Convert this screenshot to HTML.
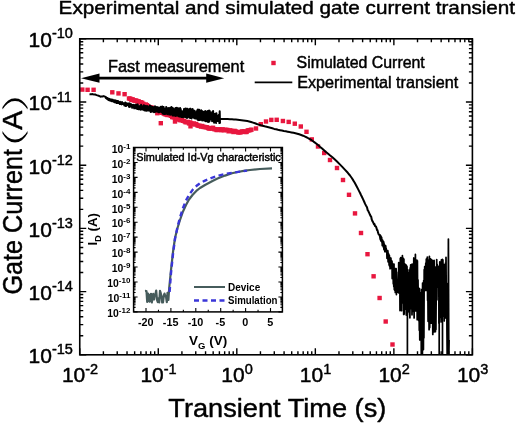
<!DOCTYPE html>
<html><head><meta charset="utf-8"><title>Experimental and simulated gate current transient</title>
<style>html,body{margin:0;padding:0;background:#fff}svg{display:block}</style></head>
<body>
<svg width="520" height="424" viewBox="0 0 520 424" style="display:block">
<rect width="520" height="424" fill="#fff"/>
<g fill="#e8173f"><rect x="80.1" y="87.4" width="4.4" height="4.4"/><rect x="85.4" y="87.6" width="4.4" height="4.4"/><rect x="91.4" y="87.6" width="4.4" height="4.4"/><rect x="110.1" y="90.1" width="4.4" height="4.4"/><rect x="116.3" y="91.2" width="4.4" height="4.4"/><rect x="122.4" y="92.0" width="4.4" height="4.4"/><rect x="155.1" y="111.0" width="4.4" height="4.4"/><rect x="158.6" y="121.0" width="4.4" height="4.4"/><rect x="172.8" y="119.3" width="4.4" height="4.4"/><rect x="188.3" y="124.1" width="4.4" height="4.4"/><rect x="126.8" y="96.3" width="4.4" height="4.4"/><rect x="128.0" y="96.4" width="4.4" height="4.4"/><rect x="129.2" y="97.6" width="4.4" height="4.4"/><rect x="130.4" y="97.1" width="4.4" height="4.4"/><rect x="131.6" y="98.3" width="4.4" height="4.4"/><rect x="132.8" y="98.4" width="4.4" height="4.4"/><rect x="134.0" y="98.3" width="4.4" height="4.4"/><rect x="135.2" y="99.4" width="4.4" height="4.4"/><rect x="136.4" y="99.1" width="4.4" height="4.4"/><rect x="137.6" y="100.1" width="4.4" height="4.4"/><rect x="138.8" y="100.1" width="4.4" height="4.4"/><rect x="140.0" y="100.6" width="4.4" height="4.4"/><rect x="141.2" y="101.7" width="4.4" height="4.4"/><rect x="142.4" y="102.9" width="4.4" height="4.4"/><rect x="143.6" y="102.3" width="4.4" height="4.4"/><rect x="144.8" y="103.0" width="4.4" height="4.4"/><rect x="146.0" y="104.2" width="4.4" height="4.4"/><rect x="147.2" y="105.2" width="4.4" height="4.4"/><rect x="148.4" y="105.2" width="4.4" height="4.4"/><rect x="149.6" y="105.5" width="4.4" height="4.4"/><rect x="150.8" y="107.0" width="4.4" height="4.4"/><rect x="152.0" y="106.0" width="4.4" height="4.4"/><rect x="153.2" y="107.9" width="4.4" height="4.4"/><rect x="154.4" y="107.5" width="4.4" height="4.4"/><rect x="155.6" y="107.9" width="4.4" height="4.4"/><rect x="156.8" y="108.4" width="4.4" height="4.4"/><rect x="158.0" y="109.3" width="4.4" height="4.4"/><rect x="159.2" y="110.6" width="4.4" height="4.4"/><rect x="160.4" y="110.2" width="4.4" height="4.4"/><rect x="161.6" y="111.4" width="4.4" height="4.4"/><rect x="162.8" y="112.0" width="4.4" height="4.4"/><rect x="164.0" y="112.1" width="4.4" height="4.4"/><rect x="165.2" y="112.8" width="4.4" height="4.4"/><rect x="166.4" y="112.5" width="4.4" height="4.4"/><rect x="167.6" y="112.9" width="4.4" height="4.4"/><rect x="168.8" y="113.6" width="4.4" height="4.4"/><rect x="170.0" y="114.9" width="4.4" height="4.4"/><rect x="171.2" y="114.9" width="4.4" height="4.4"/><rect x="172.4" y="115.2" width="4.4" height="4.4"/><rect x="173.6" y="116.1" width="4.4" height="4.4"/><rect x="174.8" y="116.3" width="4.4" height="4.4"/><rect x="176.0" y="116.5" width="4.4" height="4.4"/><rect x="177.2" y="117.7" width="4.4" height="4.4"/><rect x="178.4" y="118.0" width="4.4" height="4.4"/><rect x="179.6" y="117.7" width="4.4" height="4.4"/><rect x="180.8" y="118.6" width="4.4" height="4.4"/><rect x="182.0" y="118.9" width="4.4" height="4.4"/><rect x="183.2" y="119.9" width="4.4" height="4.4"/><rect x="184.4" y="120.0" width="4.4" height="4.4"/><rect x="185.6" y="119.7" width="4.4" height="4.4"/><rect x="186.8" y="121.2" width="4.4" height="4.4"/><rect x="188.0" y="120.2" width="4.4" height="4.4"/><rect x="189.2" y="121.1" width="4.4" height="4.4"/><rect x="190.4" y="121.9" width="4.4" height="4.4"/><rect x="191.6" y="121.3" width="4.4" height="4.4"/><rect x="192.8" y="122.2" width="4.4" height="4.4"/><rect x="194.0" y="121.8" width="4.4" height="4.4"/><rect x="195.2" y="123.1" width="4.4" height="4.4"/><rect x="196.4" y="123.6" width="4.4" height="4.4"/><rect x="197.6" y="123.7" width="4.4" height="4.4"/><rect x="198.8" y="124.4" width="4.4" height="4.4"/><rect x="200.0" y="123.8" width="4.4" height="4.4"/><rect x="201.2" y="124.7" width="4.4" height="4.4"/><rect x="202.4" y="124.8" width="4.4" height="4.4"/><rect x="203.6" y="125.0" width="4.4" height="4.4"/><rect x="204.8" y="125.1" width="4.4" height="4.4"/><rect x="206.0" y="125.9" width="4.4" height="4.4"/><rect x="207.2" y="126.4" width="4.4" height="4.4"/><rect x="208.4" y="125.9" width="4.4" height="4.4"/><rect x="209.6" y="126.4" width="4.4" height="4.4"/><rect x="210.8" y="125.6" width="4.4" height="4.4"/><rect x="212.0" y="126.9" width="4.4" height="4.4"/><rect x="213.2" y="127.0" width="4.4" height="4.4"/><rect x="214.4" y="127.8" width="4.4" height="4.4"/><rect x="215.6" y="127.7" width="4.4" height="4.4"/><rect x="216.8" y="127.1" width="4.4" height="4.4"/><rect x="218.0" y="127.4" width="4.4" height="4.4"/><rect x="219.2" y="128.0" width="4.4" height="4.4"/><rect x="220.4" y="127.1" width="4.4" height="4.4"/><rect x="221.6" y="128.0" width="4.4" height="4.4"/><rect x="222.8" y="127.7" width="4.4" height="4.4"/><rect x="224.0" y="127.7" width="4.4" height="4.4"/><rect x="225.2" y="127.8" width="4.4" height="4.4"/><rect x="226.4" y="129.1" width="4.4" height="4.4"/><rect x="227.6" y="128.2" width="4.4" height="4.4"/><rect x="228.8" y="128.5" width="4.4" height="4.4"/><rect x="230.0" y="128.9" width="4.4" height="4.4"/><rect x="231.2" y="129.8" width="4.4" height="4.4"/><rect x="232.4" y="128.7" width="4.4" height="4.4"/><rect x="233.6" y="129.4" width="4.4" height="4.4"/><rect x="234.8" y="129.7" width="4.4" height="4.4"/><rect x="236.0" y="130.2" width="4.4" height="4.4"/><rect x="237.2" y="130.1" width="4.4" height="4.4"/><rect x="238.4" y="130.2" width="4.4" height="4.4"/><rect x="239.6" y="129.2" width="4.4" height="4.4"/><rect x="240.8" y="129.5" width="4.4" height="4.4"/><rect x="242.0" y="129.2" width="4.4" height="4.4"/><rect x="243.2" y="129.8" width="4.4" height="4.4"/><rect x="244.4" y="129.7" width="4.4" height="4.4"/><rect x="245.6" y="128.2" width="4.4" height="4.4"/><rect x="246.8" y="128.1" width="4.4" height="4.4"/><rect x="248.0" y="127.9" width="4.4" height="4.4"/><rect x="249.2" y="127.5" width="4.4" height="4.4"/><rect x="253.8" y="126.3" width="4.4" height="4.4"/><rect x="258.6" y="122.0" width="4.4" height="4.4"/><rect x="263.8" y="119.3" width="4.4" height="4.4"/><rect x="269.1" y="117.7" width="4.4" height="4.4"/><rect x="274.5" y="117.6" width="4.4" height="4.4"/><rect x="280.7" y="118.8" width="4.4" height="4.4"/><rect x="286.5" y="119.7" width="4.4" height="4.4"/><rect x="292.6" y="121.5" width="4.4" height="4.4"/><rect x="298.6" y="124.3" width="4.4" height="4.4"/><rect x="304.3" y="129.6" width="4.4" height="4.4"/><rect x="309.6" y="137.2" width="4.4" height="4.4"/><rect x="315.8" y="144.3" width="4.4" height="4.4"/><rect x="322.0" y="150.8" width="4.4" height="4.4"/><rect x="327.8" y="157.8" width="4.4" height="4.4"/><rect x="334.8" y="165.8" width="4.4" height="4.4"/><rect x="340.8" y="177.8" width="4.4" height="4.4"/><rect x="346.8" y="192.6" width="4.4" height="4.4"/><rect x="352.8" y="211.2" width="4.4" height="4.4"/><rect x="358.8" y="230.8" width="4.4" height="4.4"/><rect x="365.3" y="252.0" width="4.4" height="4.4"/><rect x="371.4" y="274.1" width="4.4" height="4.4"/><rect x="377.4" y="295.8" width="4.4" height="4.4"/><rect x="383.5" y="319.3" width="4.4" height="4.4"/><rect x="390.3" y="342.3" width="4.4" height="4.4"/></g>
<clipPath id="cp"><rect x="79.75" y="38.8" width="392.65" height="316.0"/></clipPath>
<path d="M89.5,94.2 L90.5,94.3 L91.5,94.2 L92.5,94.1 L93.5,94.4 L94.5,94.4 L95.5,94.6 L96.5,95.1 L97.5,95.4 L98.5,95.7 L99.5,96.2 L100.5,96.7 L101.5,96.4 L102.5,96.5 L103.5,96.1 L104.5,96.4 L105.5,97.0 L105.8,98.0 L106.2,97.4 L106.5,98.6 L106.8,97.9 L107.1,99.1 L107.5,98.1 L107.8,99.5 L108.1,98.5 L108.5,99.9 L108.8,98.8 L109.1,100.3 L109.5,99.0 L109.8,100.5 L110.1,99.2 L110.4,100.8 L110.8,99.9 L111.1,100.6 L111.4,99.5 L111.8,101.2 L112.1,99.8 L112.4,101.3 L112.8,99.8 L113.1,101.0 L113.4,100.9 L113.7,101.7 L114.1,100.4 L114.4,102.2 L114.7,100.3 L115.1,102.3 L115.4,100.6 L115.7,101.9 L116.1,100.6 L116.4,102.9 L116.7,101.8 L117.0,102.7 L117.4,100.9 L117.7,102.9 L118.0,101.0 L118.4,103.1 L118.7,102.4 L119.0,102.8 L119.4,102.0 L119.7,103.9 L120.0,101.7 L120.3,104.1 L120.7,102.5 L121.0,103.9 L121.3,102.7 L121.7,104.4 L122.0,102.0 L122.3,103.8 L122.7,103.4 L123.0,103.9 L123.3,103.2 L123.6,104.2 L124.0,103.2 L124.3,105.4 L124.6,103.0 L125.0,105.4 L125.3,102.5 L125.6,105.9 L126.0,102.9 L126.3,105.9 L126.6,103.7 L126.9,104.7 L127.3,103.4 L127.6,104.9 L127.9,104.8 L128.3,105.0 L128.6,103.5 L128.9,106.7 L129.3,103.4 L129.6,106.9 L129.9,103.5 L130.2,106.4 L130.6,105.1 L130.9,106.0 L131.2,104.2 L131.6,106.6 L131.9,105.1 L132.2,107.8 L132.6,104.9 L132.9,106.2 L133.2,105.3 L133.6,106.9 L133.9,104.7 L134.2,108.3 L134.5,105.6 L134.9,108.2 L135.2,105.8 L135.5,106.6 L135.9,104.8 L136.2,108.4 L136.5,106.5 L136.9,107.7 L137.2,104.6 L137.5,109.1 L137.8,104.6 L138.2,107.3 L138.5,106.3 L138.8,109.3 L139.2,106.4 L139.5,107.2 L139.8,105.9 L140.2,109.2 L140.5,105.7 L140.8,109.8 L141.1,104.8 L141.5,107.5 L141.8,106.1 L142.1,109.2 L142.5,107.3 L142.8,109.6 L143.1,107.1 L143.5,108.4 L143.8,105.2 L144.1,110.2 L144.4,105.5 L144.8,110.4 L145.1,106.3 L145.4,110.5 L145.8,105.9 L146.1,110.8 L146.4,107.7 L146.8,110.5 L147.1,106.1 L147.4,110.0 L147.7,107.9 L148.1,110.6 L148.4,108.0 L148.7,110.5 L149.1,106.6 L149.4,110.5 L149.7,105.6 L150.1,110.9 L150.4,105.8 L150.7,111.9 L151.0,107.8 L151.4,111.8 L151.7,106.7 L152.0,110.2 L152.4,107.0 L152.7,111.6 L153.0,106.9 L153.4,111.0 L153.7,108.0 L154.0,112.3 L154.3,107.2 L154.7,112.1 L155.0,106.3 L155.3,110.4 L155.7,107.1 L156.0,111.4 L156.3,108.2 L156.7,109.9 L157.0,107.0 L157.3,111.4 L157.6,107.3 L158.0,111.8 L158.3,108.1 L158.6,112.2 L159.0,107.5 L159.3,112.2 L159.6,109.4 L160.0,111.3 L160.3,109.2 L160.6,110.2 L160.9,106.7 L161.3,112.1 L161.6,109.7 L161.9,110.9 L162.3,106.6 L162.6,113.6 L162.9,107.5 L163.3,113.8 L163.6,106.9 L163.9,113.9 L164.2,108.5 L164.6,111.5 L164.9,109.8 L165.2,114.0 L165.6,108.9 L165.9,112.3 L166.2,106.9 L166.6,111.3 L166.9,110.4 L167.2,114.2 L167.5,110.4 L167.9,113.7 L168.2,108.1 L168.5,110.9 L168.9,109.8 L169.2,114.6 L169.5,108.0 L169.9,113.6 L170.2,107.7 L170.5,114.8 L170.8,107.7 L171.2,112.8 L171.5,107.1 L171.8,113.7 L172.2,108.2 L172.5,115.4 L172.8,107.9 L173.2,113.6 L173.5,108.7 L173.8,115.6 L174.1,111.4 L174.5,112.9 L174.8,111.4 L175.1,115.8 L175.5,107.9 L175.8,116.0 L176.1,110.4 L176.5,115.6 L176.8,107.7 L177.1,115.1 L177.4,111.3 L177.8,113.2 L178.1,108.2 L178.4,116.3 L178.8,111.6 L179.1,114.8 L179.4,110.3 L179.8,116.6 L180.1,107.9 L180.4,114.4 L180.7,109.0 L181.1,116.9 L181.4,112.0 L181.7,114.9 L182.1,111.2 L182.4,117.1 L182.7,111.6 L183.1,117.2 L183.4,111.8 L183.7,116.1 L184.0,109.0 L184.4,115.7 L184.7,112.4 L185.0,117.1 L185.4,108.5 L185.7,116.1 L186.0,108.8 L186.4,117.7 L186.7,108.7 L187.0,118.0 L187.3,108.8 L187.7,117.4 L188.0,109.3 L188.3,115.1 L188.7,109.3 L189.0,116.7 L189.3,109.0 L189.7,117.6 L190.0,108.7 L190.3,118.1 L190.6,108.8 L191.0,115.7 L191.3,110.7 L191.6,118.5 L192.0,110.4 L192.3,114.4 L192.6,109.1 L193.0,115.4 L193.3,110.3 L193.6,117.5 L193.9,112.9 L194.3,118.2 L194.6,110.8 L194.9,116.6 L195.3,114.2 L195.6,118.6 L195.9,113.1 L196.3,116.7 L196.6,111.8 L196.9,118.5 L197.2,110.3 L197.6,119.8 L197.9,109.6 L198.2,119.9 L198.6,112.7 L198.9,119.5 L199.2,109.8 L199.6,120.1 L199.9,113.6 L200.2,116.1 L200.5,112.5 L200.9,119.8 L201.2,110.3 L201.5,119.8 L201.9,111.3 L202.2,120.4 L202.5,111.3 L202.9,120.2 L203.2,115.0 L203.5,115.7 L203.8,112.0 L204.2,120.5 L204.5,115.3 L204.8,120.3 L205.2,111.1 L205.5,121.3 L205.8,111.3 L206.2,119.7 L206.5,112.0 L206.8,121.1 L207.1,112.1 L207.5,121.7 L207.8,110.9 L208.1,121.7 L208.5,111.7 L208.8,121.9 L209.1,110.4 L209.5,121.2 L209.8,111.0 L210.1,119.7 L210.4,112.6 L210.8,118.6 L211.1,113.6 L211.4,118.9 L211.8,115.4 L212.1,121.2 L212.4,111.7 L212.8,116.8 L213.1,111.0 L213.4,119.2 L213.7,113.8 L214.1,122.8 L214.4,115.4 L214.7,117.9 L215.1,113.8 L215.4,119.4 L215.7,115.3 L216.1,122.9 L216.4,113.2 L216.7,121.2 L217.0,115.7 L217.4,119.1 L217.7,115.7 L218.0,120.9 L218.4,116.3 L218.7,120.2 L219.0,114.7 L219.4,123.1 L219.7,111.3 L220.0,123.6" fill="none" stroke="#000" stroke-width="2" stroke-linejoin="round"/>
<path d="M219.0,119.0 L220.5,119.0 L222.7,119.0 L225.2,119.1 L227.7,119.1 L230.0,119.2 L232.0,119.3 L233.9,119.4 L235.8,119.6 L237.7,119.8 L239.6,120.0 L241.5,120.2 L243.4,120.5 L245.4,120.8 L247.3,121.1 L249.2,121.5 L251.1,122.0 L253.0,122.6 L255.0,123.3 L256.9,124.0 L258.8,124.6 L260.7,125.2 L262.7,125.7 L264.6,126.3 L266.6,126.8 L268.5,127.3 L270.4,127.8 L272.3,128.3 L274.2,128.9 L276.1,129.3 L278.0,129.8 L279.9,130.2 L281.9,130.6 L283.8,131.0 L285.8,131.3 L287.7,131.7 L289.6,132.1 L291.5,132.4 L293.5,132.8 L295.4,133.2 L297.3,133.7 L299.2,134.3 L301.2,135.0 L303.1,135.7 L305.1,136.6 L307.0,137.5 L308.9,138.6 L310.8,139.7 L312.7,141.0 L314.6,142.4 L316.5,143.8 L318.4,145.3 L320.2,146.9 L322.1,148.5 L324.0,150.2 L326.0,152.0 L328.1,153.7 L330.2,155.5 L332.4,157.3 L334.6,159.3 L337.0,161.5 L339.6,164.1 L342.3,166.9 L345.1,169.9 L347.8,172.8 L350.0,175.5 L351.8,178.0 L353.3,180.4 L354.6,182.6 L355.8,184.8 L357.0,187.0 L358.1,189.1 L359.1,191.1 L360.1,193.0 L361.0,195.0 L362.0,197.0 L363.0,199.2 L364.1,201.5 L365.1,203.9 L366.1,205.8 L367.0,207.3 L367.7,210.2 L368.3,211.0 L368.9,212.3 L369.4,213.4 L370.0,214.8 L370.6,216.0 L371.2,216.7 L371.8,219.7 L372.4,221.1 L373.0,222.0 L373.5,223.1 L374.0,224.3 L374.5,224.0 L375.0,226.0 L375.5,226.1 L376.0,226.7 L376.5,228.1 L377.0,230.1 L377.5,230.3 L378.0,232.4 L378.6,234.2 L379.2,234.7 L379.8,236.0 L380.4,237.6 L381.0,239.3 L381.6,240.7 L382.2,241.6 L382.8,242.8 L383.4,243.0 L384.0,244.4 L384.6,245.9 L385.2,248.1 L385.8,248.7 L386.4,250.6 L387.0,251.1 L387.6,252.9 L388.3,255.1 L389.0,257.6 L389.6,259.2 L390.0,260.3" fill="none" stroke="#000" stroke-width="2" stroke-linejoin="round"/>
<path d="M380.0,234.4 L380.3,239.5 L380.5,236.0 L380.8,240.9 L381.0,236.2 L381.3,239.9 L381.6,237.3 L381.8,240.5 L382.1,241.8 L382.3,245.6 L382.6,240.2 L382.9,243.9 L383.1,244.3 L383.4,247.1 L383.6,241.7 L383.9,249.1 L384.2,246.5 L384.4,250.3 L384.7,245.1 L384.9,251.7 L385.2,246.0 L385.5,248.9 L385.7,245.9 L386.0,251.4 L386.2,248.6 L386.5,252.4 L386.8,251.2 L387.0,258.1 L387.3,254.3 L387.5,258.5 L387.8,250.7 L388.1,261.8 L388.3,253.7 L388.6,261.9 L388.8,254.0 L389.1,264.9 L389.4,255.5 L389.6,265.9 L389.9,260.9 L390.1,268.8 L390.4,261.6 L390.7,265.4 L390.9,258.0 L391.2,266.2 L391.4,264.5 L391.7,268.6 L392.0,261.2 L392.2,278.5 L392.5,263.3 L392.7,270.3 L393.0,267.3 L393.3,283.7 L393.5,266.2 L393.8,286.5 L394.0,264.1 L394.3,289.6 L394.6,276.3 L394.8,290.2 L395.1,280.3 L395.3,292.4 L395.6,268.7 L395.9,290.7 L396.1,268.6 L396.4,294.6 L396.6,284.4 L396.9,283.6 L397.2,280.1 L397.4,292.3 L397.7,284.3 L397.9,282.7 L398.2,272.2 L398.5,292.3 L398.7,262.7 L399.0,293.1 L399.2,268.3 L399.5,293.3 L399.8,274.3 L400.0,310.5 L400.3,258.5 L400.5,284.6 L400.8,257.7 L401.1,305.5 L401.3,260.6 L401.6,310.7 L401.8,275.1 L402.1,279.5 L402.4,255.7 L402.6,297.7 L402.9,257.8 L403.1,302.8 L403.4,262.4 L403.7,314.4 L403.9,259.0 L404.2,314.0 L404.4,288.1 L404.7,306.8 L405.0,264.0 L405.2,289.3 L405.5,294.9 L405.7,309.0 L406.0,264.9 L406.3,315.1 L406.5,265.5 L406.8,312.5 L407.0,266.5 L407.3,314.8 L407.6,269.7 L407.8,306.5 L408.1,291.8 L408.3,299.6 L408.6,273.3 L408.9,311.4 L409.1,276.0 L409.4,312.4 L409.6,270.0 L409.9,317.8 L410.2,267.9 L410.4,287.7 L410.7,264.8 L410.9,308.5 L411.2,277.5 L411.5,292.6 L411.7,264.5 L412.0,314.8 L412.2,264.2 L412.5,311.4 L412.8,268.4 L413.0,285.9 L413.3,285.4 L413.5,290.1 L413.8,258.0 L414.1,317.9 L414.3,276.6 L414.6,287.6 L414.8,265.3 L415.1,303.5 L415.4,254.4 L415.6,310.9 L415.9,287.1 L416.1,290.8 L416.4,283.8 L416.7,283.2 L416.9,260.2 L417.2,319.7 L417.4,260.8 L417.7,310.1 L418.0,279.9 L418.2,296.8 L418.5,290.8 L418.7,320.4 L419.0,296.3 L419.3,330.2 L419.5,288.5 L419.8,339.9 L420.0,302.9 L420.3,337.5 L420.6,322.3 L420.8,338.5 L421.1,292.7 L421.3,356.9 L421.6,289.7 L421.9,338.7 L422.1,307.6 L422.4,357.1 L422.6,283.1 L422.9,343.7 L423.2,298.6 L423.4,349.5 L423.7,280.6 L423.9,337.7 L424.2,269.7 L424.5,290.2 L424.7,266.6 L425.0,273.2 L425.2,267.2 L425.5,275.6 L425.8,263.1 L426.0,290.5 L426.3,259.2 L426.5,272.7 L426.8,268.4 L427.1,289.5 L427.3,257.1 L427.6,300.2 L427.8,278.5 L428.1,321.3 L428.4,260.5 L428.6,310.0 L428.9,296.0 L429.1,329.7 L429.4,256.3 L429.7,327.4 L429.9,265.9 L430.2,311.3 L430.4,258.8 L430.7,304.4 L431.0,284.4 L431.2,323.2 L431.5,259.6 L431.7,292.1 L432.0,263.0 L432.3,304.4 L432.5,260.7 L432.8,334.4 L433.0,286.7 L433.3,331.5 L433.6,300.9 L433.8,322.6 L434.1,260.3 L434.3,331.8 L434.6,267.8 L434.9,312.2 L435.1,299.5 L435.4,331.7 L435.6,267.1 L435.9,329.5 L436.2,293.5 L436.4,299.3 L436.7,259.6 L436.9,299.8 L437.2,264.4 L437.5,280.3 L437.7,279.4 L438.0,286.5 L438.2,284.2 L438.5,287.2 L438.8,266.3 L439.0,322.9 L439.3,295.1 L439.5,302.2 L439.8,261.9 L440.1,306.2 L440.3,268.0 L440.6,317.4 L440.8,265.9 L441.1,321.9 L441.4,260.0 L441.6,319.3 L441.9,265.0 L442.1,287.4 L442.4,259.3 L442.7,286.3 L442.9,259.9 L443.2,316.1 L443.4,284.3 L443.7,294.2 L444.0,264.7 L444.2,320.9 L444.5,266.4 L444.7,313.9 L445.0,289.3 L445.3,318.0 L445.5,263.1 L445.8,289.0 L446.0,257.4 L446.3,312.4 L446.6,283.4 L446.8,296.9 L447.0,330.0 L447.4,358.0 L447.8,290.0 L448.1,358.0 L448.4,239.0 L448.8,358.0 L449.1,340.0" fill="none" stroke="#000" stroke-width="1.75" stroke-linejoin="round" clip-path="url(#cp)"/>
<path d="M407.4,300V358M439.2,300V358M442.5,300V358M447.5,300V358" fill="none" stroke="#000" stroke-width="1.7" clip-path="url(#cp)"/>
<path d="M79.75,354.8v-6.5M79.75,38.8v6.5M103.39,354.8v-3.5M103.39,38.8v3.5M117.22,354.8v-3.5M117.22,38.8v3.5M127.03,354.8v-3.5M127.03,38.8v3.5M134.64,354.8v-3.5M134.64,38.8v3.5M140.86,354.8v-3.5M140.86,38.8v3.5M146.12,354.8v-3.5M146.12,38.8v3.5M150.67,354.8v-3.5M150.67,38.8v3.5M154.69,354.8v-3.5M154.69,38.8v3.5M158.28,354.8v-6.5M158.28,38.8v6.5M181.92,354.8v-3.5M181.92,38.8v3.5M195.75,354.8v-3.5M195.75,38.8v3.5M205.56,354.8v-3.5M205.56,38.8v3.5M213.17,354.8v-3.5M213.17,38.8v3.5M219.39,354.8v-3.5M219.39,38.8v3.5M224.65,354.8v-3.5M224.65,38.8v3.5M229.20,354.8v-3.5M229.20,38.8v3.5M233.22,354.8v-3.5M233.22,38.8v3.5M236.81,354.8v-6.5M236.81,38.8v6.5M260.45,354.8v-3.5M260.45,38.8v3.5M274.28,354.8v-3.5M274.28,38.8v3.5M284.09,354.8v-3.5M284.09,38.8v3.5M291.70,354.8v-3.5M291.70,38.8v3.5M297.92,354.8v-3.5M297.92,38.8v3.5M303.18,354.8v-3.5M303.18,38.8v3.5M307.73,354.8v-3.5M307.73,38.8v3.5M311.75,354.8v-3.5M311.75,38.8v3.5M315.34,354.8v-6.5M315.34,38.8v6.5M338.98,354.8v-3.5M338.98,38.8v3.5M352.81,354.8v-3.5M352.81,38.8v3.5M362.62,354.8v-3.5M362.62,38.8v3.5M370.23,354.8v-3.5M370.23,38.8v3.5M376.45,354.8v-3.5M376.45,38.8v3.5M381.71,354.8v-3.5M381.71,38.8v3.5M386.26,354.8v-3.5M386.26,38.8v3.5M390.28,354.8v-3.5M390.28,38.8v3.5M393.87,354.8v-6.5M393.87,38.8v6.5M417.51,354.8v-3.5M417.51,38.8v3.5M431.34,354.8v-3.5M431.34,38.8v3.5M441.15,354.8v-3.5M441.15,38.8v3.5M448.76,354.8v-3.5M448.76,38.8v3.5M454.98,354.8v-3.5M454.98,38.8v3.5M460.24,354.8v-3.5M460.24,38.8v3.5M464.79,354.8v-3.5M464.79,38.8v3.5M468.81,354.8v-3.5M468.81,38.8v3.5M472.40,354.8v-6.5M472.40,38.8v6.5M79.75,354.80h6.5M472.4,354.80h-6.5M79.75,335.77h3.5M472.4,335.77h-3.5M79.75,324.65h3.5M472.4,324.65h-3.5M79.75,316.75h3.5M472.4,316.75h-3.5M79.75,310.63h3.5M472.4,310.63h-3.5M79.75,305.62h3.5M472.4,305.62h-3.5M79.75,301.39h3.5M472.4,301.39h-3.5M79.75,297.72h3.5M472.4,297.72h-3.5M79.75,294.49h3.5M472.4,294.49h-3.5M79.75,291.60h6.5M472.4,291.60h-6.5M79.75,272.57h3.5M472.4,272.57h-3.5M79.75,261.45h3.5M472.4,261.45h-3.5M79.75,253.55h3.5M472.4,253.55h-3.5M79.75,247.43h3.5M472.4,247.43h-3.5M79.75,242.42h3.5M472.4,242.42h-3.5M79.75,238.19h3.5M472.4,238.19h-3.5M79.75,234.52h3.5M472.4,234.52h-3.5M79.75,231.29h3.5M472.4,231.29h-3.5M79.75,228.40h6.5M472.4,228.40h-6.5M79.75,209.37h3.5M472.4,209.37h-3.5M79.75,198.25h3.5M472.4,198.25h-3.5M79.75,190.35h3.5M472.4,190.35h-3.5M79.75,184.23h3.5M472.4,184.23h-3.5M79.75,179.22h3.5M472.4,179.22h-3.5M79.75,174.99h3.5M472.4,174.99h-3.5M79.75,171.32h3.5M472.4,171.32h-3.5M79.75,168.09h3.5M472.4,168.09h-3.5M79.75,165.20h6.5M472.4,165.20h-6.5M79.75,146.17h3.5M472.4,146.17h-3.5M79.75,135.05h3.5M472.4,135.05h-3.5M79.75,127.15h3.5M472.4,127.15h-3.5M79.75,121.03h3.5M472.4,121.03h-3.5M79.75,116.02h3.5M472.4,116.02h-3.5M79.75,111.79h3.5M472.4,111.79h-3.5M79.75,108.12h3.5M472.4,108.12h-3.5M79.75,104.89h3.5M472.4,104.89h-3.5M79.75,102.00h6.5M472.4,102.00h-6.5M79.75,82.97h3.5M472.4,82.97h-3.5M79.75,71.85h3.5M472.4,71.85h-3.5M79.75,63.95h3.5M472.4,63.95h-3.5M79.75,57.83h3.5M472.4,57.83h-3.5M79.75,52.82h3.5M472.4,52.82h-3.5M79.75,48.59h3.5M472.4,48.59h-3.5M79.75,44.92h3.5M472.4,44.92h-3.5M79.75,41.69h3.5M472.4,41.69h-3.5M79.75,38.80h6.5M472.4,38.80h-6.5" stroke="#000" stroke-width="1.4" fill="none"/>
<rect x="79.75" y="38.8" width="392.65" height="316.0" fill="none" stroke="#000" stroke-width="1.6"/>
<text x="61.9" y="382.4" font-family="Liberation Sans, Arial, sans-serif" stroke="#000" stroke-width="0.45" stroke-linejoin="round" font-size="21" font-weight="normal" text-anchor="start">10<tspan font-size="14.5" dy="-8.8">-2</tspan></text>
<text x="140.4" y="382.4" font-family="Liberation Sans, Arial, sans-serif" stroke="#000" stroke-width="0.45" stroke-linejoin="round" font-size="21" font-weight="normal" text-anchor="start">10<tspan font-size="14.5" dy="-8.8">-1</tspan></text>
<text x="221.3" y="382.4" font-family="Liberation Sans, Arial, sans-serif" stroke="#000" stroke-width="0.45" stroke-linejoin="round" font-size="21" font-weight="normal" text-anchor="start">10<tspan font-size="14.5" dy="-8.8">0</tspan></text>
<text x="299.8" y="382.4" font-family="Liberation Sans, Arial, sans-serif" stroke="#000" stroke-width="0.45" stroke-linejoin="round" font-size="21" font-weight="normal" text-anchor="start">10<tspan font-size="14.5" dy="-8.8">1</tspan></text>
<text x="378.4" y="382.4" font-family="Liberation Sans, Arial, sans-serif" stroke="#000" stroke-width="0.45" stroke-linejoin="round" font-size="21" font-weight="normal" text-anchor="start">10<tspan font-size="14.5" dy="-8.8">2</tspan></text>
<text x="456.9" y="382.4" font-family="Liberation Sans, Arial, sans-serif" stroke="#000" stroke-width="0.45" stroke-linejoin="round" font-size="21" font-weight="normal" text-anchor="start">10<tspan font-size="14.5" dy="-8.8">3</tspan></text>
<text x="28.6" y="363.2" font-family="Liberation Sans, Arial, sans-serif" stroke="#000" stroke-width="0.45" stroke-linejoin="round" font-size="21" font-weight="normal" text-anchor="start">10<tspan font-size="14.5" dy="-8.8">-15</tspan></text>
<text x="28.6" y="300.0" font-family="Liberation Sans, Arial, sans-serif" stroke="#000" stroke-width="0.45" stroke-linejoin="round" font-size="21" font-weight="normal" text-anchor="start">10<tspan font-size="14.5" dy="-8.8">-14</tspan></text>
<text x="28.6" y="236.8" font-family="Liberation Sans, Arial, sans-serif" stroke="#000" stroke-width="0.45" stroke-linejoin="round" font-size="21" font-weight="normal" text-anchor="start">10<tspan font-size="14.5" dy="-8.8">-13</tspan></text>
<text x="28.6" y="173.6" font-family="Liberation Sans, Arial, sans-serif" stroke="#000" stroke-width="0.45" stroke-linejoin="round" font-size="21" font-weight="normal" text-anchor="start">10<tspan font-size="14.5" dy="-8.8">-12</tspan></text>
<text x="28.6" y="110.4" font-family="Liberation Sans, Arial, sans-serif" stroke="#000" stroke-width="0.45" stroke-linejoin="round" font-size="21" font-weight="normal" text-anchor="start">10<tspan font-size="14.5" dy="-8.8">-11</tspan></text>
<text x="28.6" y="47.2" font-family="Liberation Sans, Arial, sans-serif" stroke="#000" stroke-width="0.45" stroke-linejoin="round" font-size="21" font-weight="normal" text-anchor="start">10<tspan font-size="14.5" dy="-8.8">-10</tspan></text>
<text x="58.6" y="14.4" font-family="Liberation Sans, Arial, sans-serif" stroke="#000" stroke-width="0.45" stroke-linejoin="round" font-size="18.6" textLength="456.5" lengthAdjust="spacingAndGlyphs">Experimental and simulated gate current transient</text>
<text x="168.3" y="417.2" font-family="Liberation Sans, Arial, sans-serif" stroke="#000" stroke-width="0.45" stroke-linejoin="round" font-size="26.5" textLength="218" lengthAdjust="spacingAndGlyphs">Transient Time (s)</text>
<g transform="translate(22.3,293.4) rotate(-90)" font-family="Liberation Sans, Arial, sans-serif" stroke="#000" stroke-width="0.45" stroke-linejoin="round" font-size="27"><text x="-1.2" y="0" textLength="145.5" lengthAdjust="spacingAndGlyphs">Gate Current</text><text transform="translate(147.0,0) scale(1.94,1)" stroke="#fff" stroke-width="0.85">(</text><text x="163.6" y="0" textLength="19" lengthAdjust="spacingAndGlyphs">A</text><text transform="translate(182.0,0) scale(1.94,1)" stroke="#fff" stroke-width="0.85">)</text></g>
<text x="107.9" y="71.8" font-family="Liberation Sans, Arial, sans-serif" stroke="#000" stroke-width="0.45" stroke-linejoin="round" font-size="16.2" textLength="136.3" lengthAdjust="spacingAndGlyphs">Fast measurement</text>
<path d="M95,78.2H210" stroke="#000" stroke-width="2.8"/>
<path d="M81,78.2L99.5,73.6V82.8Z M224.2,78.2L206.2,73.6V82.8Z" fill="#000"/>
<rect x="271.3" y="60.8" width="4.4" height="4.4" fill="#e8173f"/>
<text x="296.6" y="68.2" font-family="Liberation Sans, Arial, sans-serif" stroke="#000" stroke-width="0.45" stroke-linejoin="round" font-size="16" textLength="128.2" lengthAdjust="spacingAndGlyphs">Simulated Current</text>
<path d="M254.7,82.4H292.3" stroke="#000" stroke-width="1.8"/>
<text x="297.2" y="88.2" font-family="Liberation Sans, Arial, sans-serif" stroke="#000" stroke-width="0.45" stroke-linejoin="round" font-size="16" textLength="161" lengthAdjust="spacingAndGlyphs">Experimental transient</text>
<rect x="133.6" y="147.5" width="148.79999999999998" height="164.39999999999998" fill="#fff"/>
<path d="M145.0,291.0 L145.8,290.9 L146.5,291.3 L147.2,302.0 L148.0,293.7 L148.8,299.8 L149.5,301.7 L150.2,294.7 L151.0,293.9 L151.8,302.5 L152.5,298.2 L153.2,293.8 L154.0,299.5 L154.8,294.5 L155.5,293.9 L156.2,290.5 L157.0,299.9 L157.8,302.0 L158.5,298.4 L159.2,302.3 L160.0,290.8 L160.8,293.4 L161.5,296.4 L162.2,302.5 L163.0,302.4 L163.8,295.3 L164.5,293.6 L165.2,295.9 L166.0,296.7 L166.8,302.1 L167.5,292.8 L168.4,300.0 L169.2,288.0 L171.0,270.0 L173.0,252.0 L175.0,238.0 L177.5,228.0 L180.0,220.0 L183.0,211.5 L186.0,205.0 L189.0,199.5 L192.5,195.0 L197.0,190.3 L200.0,188.0 L205.0,185.0 L212.5,181.0 L217.5,178.6 L225.0,175.6 L232.0,173.3 L237.5,172.0 L245.0,170.6 L250.0,170.0 L260.0,169.0 L272.0,168.3" fill="none" stroke="#465c5c" stroke-width="2.2" stroke-linejoin="round"/>
<path d="M169.6,292.0 L171.0,273.0 L173.0,254.0 L175.0,239.0 L177.5,227.0 L180.0,217.5 L183.0,208.0 L186.0,200.5 L189.0,195.0 L192.5,190.0 L197.0,185.5 L200.0,183.3 L205.0,180.6 L212.5,177.5 L217.5,175.8 L225.0,174.0 L232.5,172.7 L242.5,171.3 L247.0,170.6" fill="none" stroke="#3a36d8" stroke-width="2.4" stroke-dasharray="5,3.5"/>
<path d="M133.6,311.90h4M282.4,311.90h-4M133.6,307.40h2M282.4,307.40h-2M133.6,304.77h2M282.4,304.77h-2M133.6,302.90h2M282.4,302.90h-2M133.6,301.45h2M282.4,301.45h-2M133.6,300.27h2M282.4,300.27h-2M133.6,299.27h2M282.4,299.27h-2M133.6,298.40h2M282.4,298.40h-2M133.6,297.64h2M282.4,297.64h-2M133.6,296.95h4M282.4,296.95h-4M133.6,292.46h2M282.4,292.46h-2M133.6,289.82h2M282.4,289.82h-2M133.6,287.96h2M282.4,287.96h-2M133.6,286.51h2M282.4,286.51h-2M133.6,285.32h2M282.4,285.32h-2M133.6,284.32h2M282.4,284.32h-2M133.6,283.46h2M282.4,283.46h-2M133.6,282.69h2M282.4,282.69h-2M133.6,282.01h4M282.4,282.01h-4M133.6,277.51h2M282.4,277.51h-2M133.6,274.88h2M282.4,274.88h-2M133.6,273.01h2M282.4,273.01h-2M133.6,271.56h2M282.4,271.56h-2M133.6,270.38h2M282.4,270.38h-2M133.6,269.38h2M282.4,269.38h-2M133.6,268.51h2M282.4,268.51h-2M133.6,267.75h2M282.4,267.75h-2M133.6,267.06h4M282.4,267.06h-4M133.6,262.56h2M282.4,262.56h-2M133.6,259.93h2M282.4,259.93h-2M133.6,258.07h2M282.4,258.07h-2M133.6,256.62h2M282.4,256.62h-2M133.6,255.43h2M282.4,255.43h-2M133.6,254.43h2M282.4,254.43h-2M133.6,253.57h2M282.4,253.57h-2M133.6,252.80h2M282.4,252.80h-2M133.6,252.12h4M282.4,252.12h-4M133.6,247.62h2M282.4,247.62h-2M133.6,244.99h2M282.4,244.99h-2M133.6,243.12h2M282.4,243.12h-2M133.6,241.67h2M282.4,241.67h-2M133.6,240.49h2M282.4,240.49h-2M133.6,239.49h2M282.4,239.49h-2M133.6,238.62h2M282.4,238.62h-2M133.6,237.86h2M282.4,237.86h-2M133.6,237.17h4M282.4,237.17h-4M133.6,232.67h2M282.4,232.67h-2M133.6,230.04h2M282.4,230.04h-2M133.6,228.17h2M282.4,228.17h-2M133.6,226.73h2M282.4,226.73h-2M133.6,225.54h2M282.4,225.54h-2M133.6,224.54h2M282.4,224.54h-2M133.6,223.68h2M282.4,223.68h-2M133.6,222.91h2M282.4,222.91h-2M133.6,222.23h4M282.4,222.23h-4M133.6,217.73h2M282.4,217.73h-2M133.6,215.10h2M282.4,215.10h-2M133.6,213.23h2M282.4,213.23h-2M133.6,211.78h2M282.4,211.78h-2M133.6,210.60h2M282.4,210.60h-2M133.6,209.60h2M282.4,209.60h-2M133.6,208.73h2M282.4,208.73h-2M133.6,207.97h2M282.4,207.97h-2M133.6,207.28h4M282.4,207.28h-4M133.6,202.78h2M282.4,202.78h-2M133.6,200.15h2M282.4,200.15h-2M133.6,198.28h2M282.4,198.28h-2M133.6,196.84h2M282.4,196.84h-2M133.6,195.65h2M282.4,195.65h-2M133.6,194.65h2M282.4,194.65h-2M133.6,193.78h2M282.4,193.78h-2M133.6,193.02h2M282.4,193.02h-2M133.6,192.34h4M282.4,192.34h-4M133.6,187.84h2M282.4,187.84h-2M133.6,185.21h2M282.4,185.21h-2M133.6,183.34h2M282.4,183.34h-2M133.6,181.89h2M282.4,181.89h-2M133.6,180.71h2M282.4,180.71h-2M133.6,179.71h2M282.4,179.71h-2M133.6,178.84h2M282.4,178.84h-2M133.6,178.07h2M282.4,178.07h-2M133.6,177.39h4M282.4,177.39h-4M133.6,172.89h2M282.4,172.89h-2M133.6,170.26h2M282.4,170.26h-2M133.6,168.39h2M282.4,168.39h-2M133.6,166.94h2M282.4,166.94h-2M133.6,165.76h2M282.4,165.76h-2M133.6,164.76h2M282.4,164.76h-2M133.6,163.89h2M282.4,163.89h-2M133.6,163.13h2M282.4,163.13h-2M133.6,162.45h4M282.4,162.45h-4M133.6,157.95h2M282.4,157.95h-2M133.6,155.31h2M282.4,155.31h-2M133.6,153.45h2M282.4,153.45h-2M133.6,152.00h2M282.4,152.00h-2M133.6,150.82h2M282.4,150.82h-2M133.6,149.82h2M282.4,149.82h-2M133.6,148.95h2M282.4,148.95h-2M133.6,148.18h2M282.4,148.18h-2M133.6,147.50h4M282.4,147.50h-4M146.00,311.9v-4M146.00,147.5v4M170.90,311.9v-4M170.90,147.5v4M195.80,311.9v-4M195.80,147.5v4M220.70,311.9v-4M220.70,147.5v4M245.60,311.9v-4M245.60,147.5v4M270.50,311.9v-4M270.50,147.5v4M133.55,311.9v-2.2M133.55,147.5v2.2M158.45,311.9v-2.2M158.45,147.5v2.2M183.35,311.9v-2.2M183.35,147.5v2.2M208.25,311.9v-2.2M208.25,147.5v2.2M233.15,311.9v-2.2M233.15,147.5v2.2M258.05,311.9v-2.2M258.05,147.5v2.2" stroke="#000" stroke-width="1.1" fill="none"/>
<rect x="133.6" y="147.5" width="148.79999999999998" height="164.39999999999998" fill="none" stroke="#000" stroke-width="1.5"/>
<text x="130.4" y="317.1" font-family="Liberation Sans, Arial, sans-serif" font-size="10.4" font-weight="bold" text-anchor="end">10<tspan font-size="8" dy="-4.0">-12</tspan></text>
<text x="130.4" y="302.2" font-family="Liberation Sans, Arial, sans-serif" font-size="10.4" font-weight="bold" text-anchor="end">10<tspan font-size="8" dy="-4.0">-11</tspan></text>
<text x="130.4" y="287.2" font-family="Liberation Sans, Arial, sans-serif" font-size="10.4" font-weight="bold" text-anchor="end">10<tspan font-size="8" dy="-4.0">-10</tspan></text>
<text x="130.4" y="272.3" font-family="Liberation Sans, Arial, sans-serif" font-size="10.4" font-weight="bold" text-anchor="end">10<tspan font-size="8" dy="-4.0">-9</tspan></text>
<text x="130.4" y="257.3" font-family="Liberation Sans, Arial, sans-serif" font-size="10.4" font-weight="bold" text-anchor="end">10<tspan font-size="8" dy="-4.0">-8</tspan></text>
<text x="130.4" y="242.4" font-family="Liberation Sans, Arial, sans-serif" font-size="10.4" font-weight="bold" text-anchor="end">10<tspan font-size="8" dy="-4.0">-7</tspan></text>
<text x="130.4" y="227.4" font-family="Liberation Sans, Arial, sans-serif" font-size="10.4" font-weight="bold" text-anchor="end">10<tspan font-size="8" dy="-4.0">-6</tspan></text>
<text x="130.4" y="212.5" font-family="Liberation Sans, Arial, sans-serif" font-size="10.4" font-weight="bold" text-anchor="end">10<tspan font-size="8" dy="-4.0">-5</tspan></text>
<text x="130.4" y="197.5" font-family="Liberation Sans, Arial, sans-serif" font-size="10.4" font-weight="bold" text-anchor="end">10<tspan font-size="8" dy="-4.0">-4</tspan></text>
<text x="130.4" y="182.6" font-family="Liberation Sans, Arial, sans-serif" font-size="10.4" font-weight="bold" text-anchor="end">10<tspan font-size="8" dy="-4.0">-3</tspan></text>
<text x="130.4" y="167.6" font-family="Liberation Sans, Arial, sans-serif" font-size="10.4" font-weight="bold" text-anchor="end">10<tspan font-size="8" dy="-4.0">-2</tspan></text>
<text x="130.4" y="152.7" font-family="Liberation Sans, Arial, sans-serif" font-size="10.4" font-weight="bold" text-anchor="end">10<tspan font-size="8" dy="-4.0">-1</tspan></text>
<text x="145.7" y="325.6" font-family="Liberation Sans, Arial, sans-serif" font-size="10.8" font-weight="bold" text-anchor="middle">-20</text>
<text x="170.6" y="325.6" font-family="Liberation Sans, Arial, sans-serif" font-size="10.8" font-weight="bold" text-anchor="middle">-15</text>
<text x="195.5" y="325.6" font-family="Liberation Sans, Arial, sans-serif" font-size="10.8" font-weight="bold" text-anchor="middle">-10</text>
<text x="220.4" y="325.6" font-family="Liberation Sans, Arial, sans-serif" font-size="10.8" font-weight="bold" text-anchor="middle">-5</text>
<text x="245.3" y="325.6" font-family="Liberation Sans, Arial, sans-serif" font-size="10.8" font-weight="bold" text-anchor="middle">0</text>
<text x="270.2" y="325.6" font-family="Liberation Sans, Arial, sans-serif" font-size="10.8" font-weight="bold" text-anchor="middle">5</text>
<text x="136.2" y="160.6" font-family="Liberation Sans, Arial, sans-serif" font-size="10.8" stroke="#000" stroke-width="0.45" textLength="144.6" lengthAdjust="spacingAndGlyphs">Simulated Id-Vg characteristic</text>
<path d="M194,287H225" stroke="#465c5c" stroke-width="2"/>
<path d="M194,300.5H226" stroke="#3a36d8" stroke-width="2.3" stroke-dasharray="5,3.5"/>
<text x="228" y="290.6" font-family="Liberation Sans, Arial, sans-serif" font-size="10" font-weight="bold">Device</text>
<text x="228" y="304.2" font-family="Liberation Sans, Arial, sans-serif" font-size="10" font-weight="bold" textLength="49.5" lengthAdjust="spacingAndGlyphs">Simulation</text>
<text x="189" y="344.8" font-family="Liberation Sans, Arial, sans-serif" font-size="13.5" font-weight="bold">V<tspan font-size="9.5" dy="4.3">G</tspan><tspan dy="-4.3"> (V)</tspan></text>
<text transform="translate(97.2,245.6) rotate(-90)" font-family="Liberation Sans, Arial, sans-serif" font-size="13.2" font-weight="bold">I<tspan font-size="9.5" dy="3.8">D</tspan><tspan dy="-3.8"> (A)</tspan></text>
</svg>
</body></html>
